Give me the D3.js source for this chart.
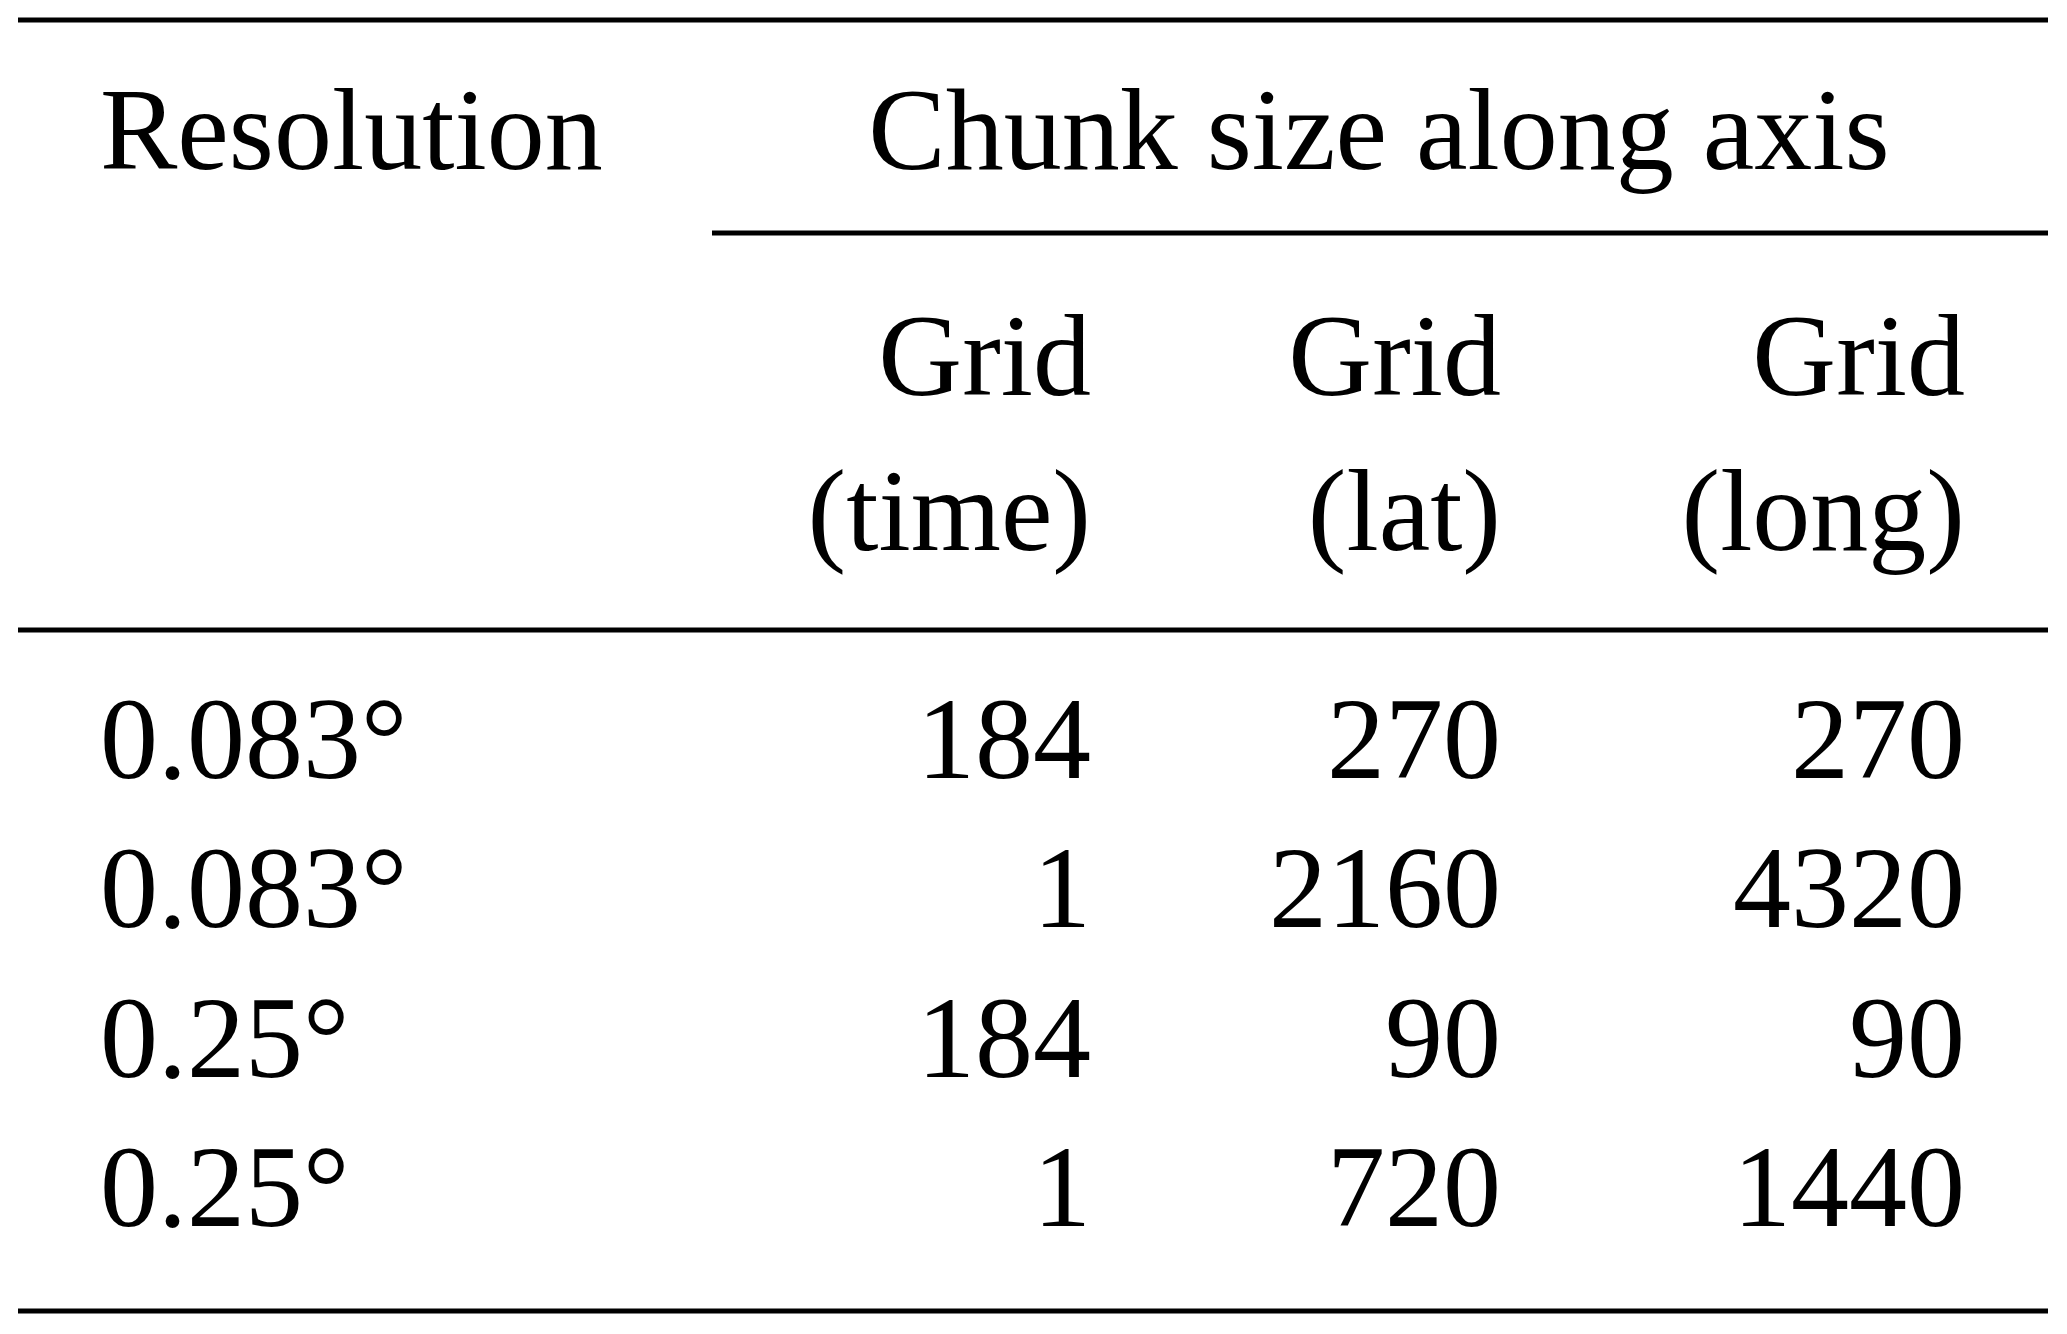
<!DOCTYPE html>
<html>
<head>
<meta charset="utf-8">
<script src="https://cdn.jsdelivr.net/npm/d3@7"></script>
<style>
  body { margin: 0; background: #fff; }
  svg text { font-family: "Liberation Serif", "DejaVu Serif", serif; fill: #000; }
</style>
</head>
<body>
<svg id="table" width="2067" height="1334"></svg>
<script>
// table contents
var resolutions = ["0.083°", "0.083°", "0.25°", "0.25°"];
var columns = ["time", "lat", "long"];
var chunkTime = [184, 1, 184, 1];
var chunkLat = [270, 2160, 90, 720];
var chunkLong = [270, 4320, 90, 1440];

var svg = d3.select('#table');
var fontSize = 116;

// row baselines and column right edges
var y_scale = d3.scalePoint().domain(d3.range(resolutions.length)).range([778, 1226]);
var x_scale = d3.scaleOrdinal().domain(columns).range([1091, 1501, 1965]);

function rule(y, x1, x2) {
  svg.append("line").attr("x1", x1).attr("x2", x2).attr("y1", y).attr("y2", y)
      .attr("stroke", "#000").attr("stroke-width", 5);
}
rule(20, 18, 2048);
rule(233, 712, 2048);
rule(630, 18, 2048);
rule(1311, 18, 2048);

svg.append("text").attr("x", 100).attr("y", 169).attr("font-size", fontSize).text("Resolution");
svg.append("text").attr("x", 1379).attr("y", 169).attr("font-size", fontSize)
    .attr("text-anchor", "middle").text("Chunk size along axis");

// column headers
var hdr = svg.selectAll(".hdr").data(columns).enter().append("g").attr("class", "hdr");
hdr.append("text").attr("x", function(d){ return x_scale(d); }).attr("y", 395)
    .attr("font-size", fontSize).attr("text-anchor", "end").text("Grid");
hdr.append("text").attr("x", function(d){ return x_scale(d); }).attr("y", 550)
    .attr("font-size", fontSize).attr("text-anchor", "end").text(function(d){ return "(" + d + ")"; });

// body rows
var rows = resolutions.map(function(r, i){
  return {res: r, vals: [chunkTime[i], chunkLat[i], chunkLong[i]], i: i};
});
var row = svg.selectAll(".row").data(rows).enter().append("g").attr("class", "row")
    .attr("transform", function(d){ return "translate(0," + y_scale(d.i) + ")"; });
row.append("text").attr("x", 100).attr("font-size", fontSize).text(function(d){ return d.res; });
row.selectAll(".val").data(function(d){ return d.vals; }).enter().append("text")
    .attr("class", "val")
    .attr("x", function(d, j){ return x_scale(columns[j]); })
    .attr("font-size", fontSize).attr("text-anchor", "end")
    .text(function(d){ return d; });
</script>
</body>
</html>
